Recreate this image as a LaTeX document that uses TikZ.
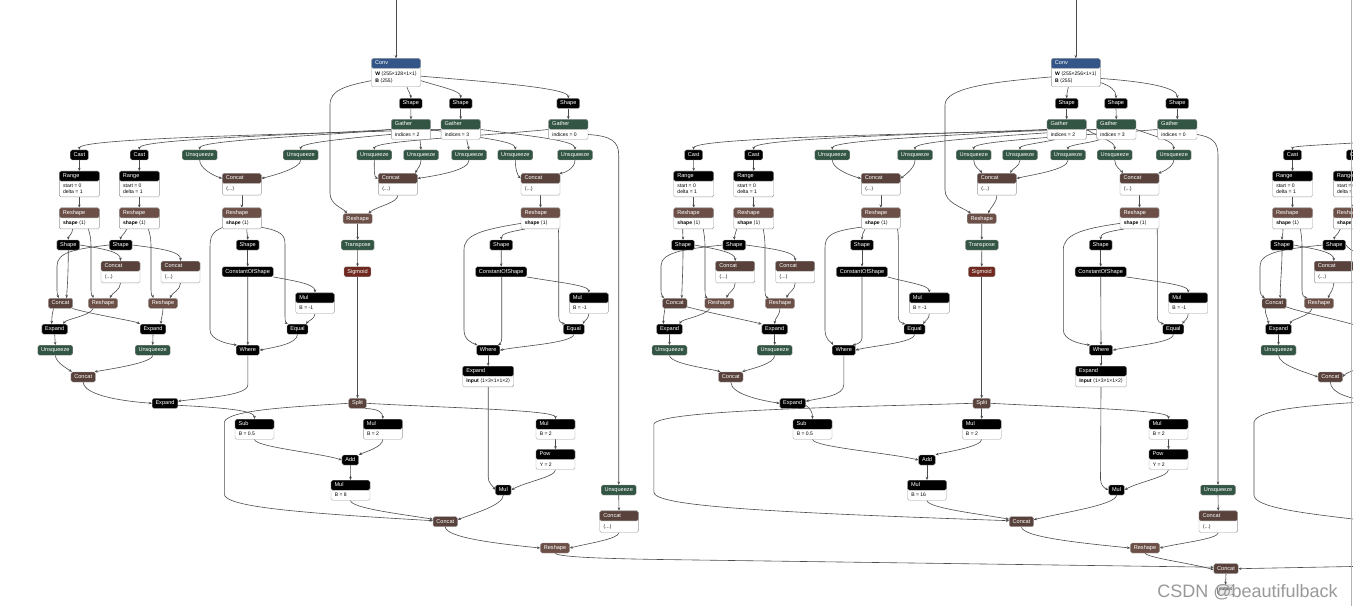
\documentclass[tikz,border=0pt]{standalone}
\usepackage{fontspec}
\usetikzlibrary{calc,arrows.meta}
\newfontfamily\labfont{Liberation Sans}
\newfontfamily\djfont{DejaVu Sans}
\newcommand{\opfont}{\labfont\fontsize{4.2pt}{5pt}\selectfont}
\newcommand{\atfont}{\labfont\fontsize{3.8pt}{4.5pt}\selectfont}
\newcommand{\outfont}{\labfont\fontsize{3.4pt}{4pt}\selectfont}
\newcommand{\wmfont}{\labfont\fontsize{13.5pt}{16pt}\selectfont}
\newcommand{\lng}{{\djfont ⟨}}
\newcommand{\rng}{{\djfont ⟩}}
\definecolor{cconv}{RGB}{51,85,136}
\definecolor{cgrn}{RGB}{51,85,68}
\definecolor{cshp}{RGB}{108,79,71}
\definecolor{ctens}{RGB}{89,66,59}
\definecolor{cact}{RGB}{112,41,33}
\pgfdeclarelayer{bgl}
\pgfdeclarelayer{edges}
\pgfsetlayers{bgl,edges,main}
\tikzset{
 opn/.style={rounded corners=1.2pt, inner xsep=2.5pt, inner ysep=0pt, minimum height=7.5pt,
   text height=3.0pt, text depth=0.8pt, font=\opfont, text=white, draw=black!35, line width=0.25pt},
 blk/.style={opn, fill=black},
 grn/.style={opn, fill=cgrn},
 brn/.style={opn, fill=ctens},
 rsh/.style={opn, fill=cshp},
 actn/.style={opn, fill=cact},
 hdrbox/.style={rounded corners=1.2pt, inner sep=0pt, minimum height=7.5pt, draw=black!35, line width=0.25pt},
 bodybox/.style={rounded corners=1.2pt, inner sep=0pt, draw=black!40, fill=white, line width=0.3pt},
 hdrtext/.style={anchor=west, inner sep=0pt, font=\opfont, text=white, text height=3.0pt, text depth=0.8pt},
 bodytext/.style={anchor=west, inner sep=0pt, font=\atfont, align=left, text=black},
 outn/.style={rounded corners=1.2pt, draw=black!70, fill=black!8, text=black, font=\outfont,
   inner xsep=1.2pt, inner ysep=0pt, minimum height=7.5pt, line width=0.3pt},
 wmark/.style={inner sep=0pt, font=\wmfont, text=black!40},
 edg/.style={draw=black!70, line width=0.45pt, -{Stealth[length=2.4pt,width=2pt]}},
}
% #1 name, #2 x centre, #3 y top, #4 width px, #5 colour, #6 title, #7 body height px, #8 body text
\newcommand{\anode}[8]{%
 \node[bodybox, minimum width=#4*0.75pt, minimum height=(#7+10)*0.75pt, anchor=north] (#1x) at (#2,#3) {};
 \node[hdrbox, fill=#5, minimum width=#4*0.75pt, anchor=north] (#1) at (#2,#3) {};
 \node[hdrtext] (#1t) at ([xshift=2.6pt]#1.west) {#6};
 \node[bodytext] (#1y) at ({#2-#4/2+3.5},{#3+10+#7/2}) {#8};
}
\begin{document}
\begin{tikzpicture}[x=0.75pt,y=-0.75pt]
\useasboundingbox (0,0) rectangle (1353,606);
\begin{pgfonlayer}{bgl}
\fill[white] (0,0) rectangle (1353,606);
\end{pgfonlayer}

% ================= block 1 =================
\coordinate (ptop) at (396,-5);
\anode{pconv}{396}{58.3}{49}{cconv}{Conv}{18.3}{\textbf{W} \lng255×128×1×1\rng\\[1.4pt]\textbf{B} \lng255\rng}
\node[blk] (psh1) at (410.8,103.5) {Shape};
\node[blk] (psh2) at (460.7,103.5) {Shape};
\node[blk] (psh3) at (568.3,103.5) {Shape};
\anode{pg1}{411}{119.3}{39.3}{cgrn}{Gather}{10}{indices = 2}
\anode{pg2}{460.7}{119.3}{39.3}{cgrn}{Gather}{10}{indices = 3}
\anode{pg3}{568.3}{119.3}{39.3}{cgrn}{Gather}{10}{indices = 0}
\node[blk] (pcast1) at (79.3,155) {Cast};
\node[blk] (pcast2) at (139.3,155) {Cast};
\node[grn] (pu1) at (199.7,155) {Unsqueeze};
\node[grn] (pu2) at (300.7,155) {Unsqueeze};
\node[grn] (pu3) at (374.3,155) {Unsqueeze};
\node[grn] (pu4) at (421,155) {Unsqueeze};
\node[grn] (pu5) at (469,155) {Unsqueeze};
\node[grn] (pu6) at (515.3,155) {Unsqueeze};
\node[grn] (pu7) at (575,155) {Unsqueeze};
\anode{prg1}{79.3}{171}{40}{black}{Range}{15.7}{start = 0\\delta = 1}
\anode{prg2}{139.3}{171}{40}{black}{Range}{15.7}{start = 0\\delta = 1}
\anode{pcc1}{241.8}{173.3}{39}{ctens}{Concat}{11.7}{\lng...\rng}
\anode{pcc2}{397.8}{173.3}{39}{ctens}{Concat}{11.7}{\lng...\rng}
\anode{pcc3}{540.5}{173.3}{39}{ctens}{Concat}{11.7}{\lng...\rng}
\anode{prs1}{79.3}{207.7}{40}{cshp}{Reshape}{11}{\textbf{shape} \lng1\rng}
\anode{prs2}{139.3}{207.7}{40}{cshp}{Reshape}{11}{\textbf{shape} \lng1\rng}
\anode{prs3}{241.8}{207.7}{39}{cshp}{Reshape}{11}{\textbf{shape} \lng1\rng}
\anode{prs4}{540.5}{207.7}{39}{cshp}{Reshape}{11}{\textbf{shape} \lng1\rng}
\node[rsh] (prs5) at (357.7,218.7) {Reshape};
\node[blk] (pshA) at (68.3,245) {Shape};
\node[blk] (pshB) at (120.7,245) {Shape};
\node[blk] (pshC) at (247.7,245) {Shape};
\node[grn] (ptr) at (357.7,245) {Transpose};
\node[blk] (pshD) at (501.3,245) {Shape};
\anode{pcc4}{120.5}{261}{39}{ctens}{Concat}{11.7}{\lng...\rng}
\anode{pcc5}{180.5}{261}{39}{ctens}{Concat}{11.7}{\lng...\rng}
\node[blk] (pcos1) at (247.7,271.8) {ConstantOfShape};
\node[actn] (psig) at (357.5,271.8) {Sigmoid};
\node[blk] (pcos2) at (501.2,271.8) {ConstantOfShape};
\anode{pmul1}{315}{292.7}{38.6}{black}{Mul}{10.6}{B = -1}
\anode{pmul2}{588.8}{292.7}{39}{black}{Mul}{10.6}{B = -1}
\node[brn] (pcc7) at (60.5,303.3) {Concat};
\node[rsh] (prs6) at (103,303.3) {Reshape};
\node[rsh] (prs7) at (163,303.3) {Reshape};
\node[blk] (pex1) at (54.7,329.2) {Expand};
\node[blk] (pex2) at (153,329.2) {Expand};
\node[blk] (peq1) at (297.5,329.2) {Equal};
\node[blk] (peq2) at (573.8,329.2) {Equal};
\node[grn] (pu8) at (55.3,350.2) {Unsqueeze};
\node[grn] (pu9) at (152.7,350.2) {Unsqueeze};
\node[blk] (pwh1) at (247.8,350.2) {Where};
\node[blk] (pwh2) at (488.2,350.2) {Where};
\anode{pexp}{488.2}{366}{51}{black}{Expand}{10.7}{\textbf{Input} \lng1×3×1×1×2\rng}
\node[brn] (pcc8) at (83.2,377) {Concat};
\node[blk] (pex3) at (165,403.3) {Expand};
\node[brn] (psplit) at (357.5,403.3) {Split};
\anode{psub}{254.5}{419}{39}{black}{Sub}{10}{B = 0.5}
\anode{pmul3}{382.8}{419}{39}{black}{Mul}{10}{B = 2}
\anode{pmul4}{555.5}{419}{39}{black}{Mul}{10}{B = 2}
\anode{ppow}{555.5}{449.3}{39}{black}{Pow}{10}{Y = 2}
\node[blk] (padd) at (350.3,460) {Add};
\anode{pmul5}{350.5}{480}{39}{black}{Mul}{10}{B = 8}
\node[blk] (pmul6) at (503.3,490) {Mul};
\node[grn] (pu10) at (618.7,490) {Unsqueeze};
\anode{pcc6}{619}{510.7}{38.6}{ctens}{Concat}{11.6}{\lng...\rng}
\node[brn] (pcc9) at (445.3,521.7) {Concat};
\node[rsh] (prs8) at (555,548) {Reshape};

% ================= block 2 =================
\coordinate (qtop) at (1075.8,-5);
\anode{qconv}{1075.8}{58.3}{49}{cconv}{Conv}{18.3}{\textbf{W} \lng255×256×1×1\rng\\[1.4pt]\textbf{B} \lng255\rng}
\node[blk] (qsh1) at (1066.7,103.5) {Shape};
\node[blk] (qsh2) at (1116,103.5) {Shape};
\node[blk] (qsh3) at (1177.3,103.5) {Shape};
\anode{qg1}{1066.7}{119.3}{39.3}{cgrn}{Gather}{10}{indices = 2}
\anode{qg2}{1116.3}{119.3}{39.3}{cgrn}{Gather}{10}{indices = 3}
\anode{qg3}{1177.3}{119.3}{39.3}{cgrn}{Gather}{10}{indices = 0}
\node[blk] (qcast1) at (693.6,155) {Cast};
\node[blk] (qcast2) at (753.7,155) {Cast};
\node[grn] (qu1) at (832.3,155) {Unsqueeze};
\node[grn] (qu2) at (915,155) {Unsqueeze};
\node[grn] (qu3) at (973.7,155) {Unsqueeze};
\node[grn] (qu4) at (1020,155) {Unsqueeze};
\node[grn] (qu5) at (1068,155) {Unsqueeze};
\node[grn] (qu6) at (1114.7,155) {Unsqueeze};
\node[grn] (qu7) at (1173.7,155) {Unsqueeze};
\anode{qrg1}{693.7}{171}{40}{black}{Range}{15.7}{start = 0\\delta = 1}
\anode{qrg2}{753.7}{171}{40}{black}{Range}{15.7}{start = 0\\delta = 1}
\anode{qcc1}{880.8}{173.3}{39}{ctens}{Concat}{11.7}{\lng...\rng}
\anode{qcc2}{996.8}{173.3}{39}{ctens}{Concat}{11.7}{\lng...\rng}
\anode{qcc3}{1139.5}{173.3}{39}{ctens}{Concat}{11.7}{\lng...\rng}
\anode{qrs1}{693.7}{207.7}{40}{cshp}{Reshape}{11}{\textbf{shape} \lng1\rng}
\anode{qrs2}{753.7}{207.7}{40}{cshp}{Reshape}{11}{\textbf{shape} \lng1\rng}
\anode{qrs3}{880.8}{207.7}{39}{cshp}{Reshape}{11}{\textbf{shape} \lng1\rng}
\anode{qrs4}{1139.5}{207.7}{39}{cshp}{Reshape}{11}{\textbf{shape} \lng1\rng}
\node[rsh] (qrs5) at (981.7,218.7) {Reshape};
\node[blk] (qshA) at (683,245) {Shape};
\node[blk] (qshB) at (734.3,245) {Shape};
\node[blk] (qshC) at (862,245) {Shape};
\node[grn] (qtr) at (981.8,245) {Transpose};
\node[blk] (qshD) at (1100.7,245) {Shape};
\anode{qcc4}{735.2}{261}{39}{ctens}{Concat}{11.7}{\lng...\rng}
\anode{qcc5}{795.2}{261}{39}{ctens}{Concat}{11.7}{\lng...\rng}
\node[blk] (qcos1) at (862,271.8) {ConstantOfShape};
\node[actn] (qsig) at (981.7,271.8) {Sigmoid};
\node[blk] (qcos2) at (1100.7,271.8) {ConstantOfShape};
\anode{qmul1}{929.3}{292.7}{40}{black}{Mul}{10.6}{B = -1}
\anode{qmul2}{1188.2}{292.7}{39}{black}{Mul}{10.6}{B = -1}
\node[brn] (qcc7) at (674.8,303.3) {Concat};
\node[rsh] (qrs6) at (719.3,303.3) {Reshape};
\node[rsh] (qrs7) at (780,303.3) {Reshape};
\node[blk] (qex1) at (669.5,329.2) {Expand};
\node[blk] (qex2) at (774.7,329.2) {Expand};
\node[blk] (qeq1) at (914.5,329.2) {Equal};
\node[blk] (qeq2) at (1173.3,329.2) {Equal};
\node[grn] (qu8) at (669.5,350.2) {Unsqueeze};
\node[grn] (qu9) at (774.7,350.2) {Unsqueeze};
\node[blk] (qwh1) at (843.8,350.2) {Where};
\node[blk] (qwh2) at (1101,350.2) {Where};
\anode{qexp}{1101}{366}{51}{black}{Expand}{10.7}{\textbf{Input} \lng1×3×1×1×2\rng}
\node[brn] (qcc8) at (730.8,377) {Concat};
\node[blk] (qex3) at (792.7,403.3) {Expand};
\node[brn] (qsplit) at (981.7,403.3) {Split};
\anode{qsub}{812.5}{419}{39}{black}{Sub}{10}{B = 0.5}
\anode{qmul3}{981.7}{419}{39}{black}{Mul}{10}{B = 2}
\anode{qmul4}{1168.5}{419}{39}{black}{Mul}{10}{B = 2}
\anode{qpow}{1168.5}{449.3}{39}{black}{Pow}{10}{Y = 2}
\node[blk] (qadd) at (927,460) {Add};
\anode{qmul5}{927}{480}{39}{black}{Mul}{10}{B = 16}
\node[blk] (qmul6) at (1116.5,490) {Mul};
\node[grn] (qu10) at (1218,490) {Unsqueeze};
\anode{qcc6}{1218.3}{510.7}{38.6}{ctens}{Concat}{11.6}{\lng...\rng}
\node[brn] (qcc9) at (1021.5,521.7) {Concat};
\node[rsh] (qrs8) at (1145,548) {Reshape};
\node[brn] (fcc) at (1226,568.7) {Concat};
\node[outn] (fout) at (1225.5,590) {output};

% ================= block 3 (cut off) =================
\node[blk] (rcast1) at (1292.5,155) {Cast};
\node[blk] (rcast2) at (1355.5,155) {Cast};
\anode{rrg1}{1292.5}{171}{40}{black}{Range}{15.7}{start = 0\\delta = 1}
\anode{rrg2}{1353.3}{171}{40}{black}{Range}{15.7}{start = 0\\delta = 1}
\anode{rrs1}{1292.5}{207.7}{40}{cshp}{Reshape}{11}{\textbf{shape} \lng1\rng}
\anode{rrs2}{1353.3}{207.7}{40}{cshp}{Reshape}{11}{\textbf{shape} \lng1\rng}
\node[blk] (rshA) at (1282,245) {Shape};
\node[blk] (rshB) at (1334.3,245) {Shape};
\anode{rcc4}{1333.8}{261}{39}{ctens}{Concat}{11.7}{\lng...\rng}
\node[brn] (rcc7) at (1274.2,303.3) {Concat};
\node[rsh] (rrs6) at (1319,303.3) {Reshape};
\node[blk] (rex1) at (1278.5,329.2) {Expand};
\node[grn] (ru8) at (1278.5,350.2) {Unsqueeze};
\node[brn] (rcc8) at (1330.3,377) {Concat};
\coordinate (rtop) at (1362,142.5);
\coordinate (rsBo) at (1362,256);
\coordinate (rc7o) at (1365,328);
\coordinate (rc8i) at (1362,368);
\coordinate (rc8o) at (1362,400);
\coordinate (rl1) at (1362,402);
\coordinate (rl2) at (1362,520);
\coordinate (rin) at (1362,566.3);

\node[wmark, anchor=base west] (wm) at (1157,597) {CSDN @beautifulback};

% ================= edges =================
\begin{pgfonlayer}{edges}
% ---- block 1 top
\draw[edg] (ptop) -- (pconv.north);
\draw[edg] ($(pconvx.south)+(11,0)$) .. controls (408,92) and (410.8,93) .. (psh1.north);
\draw[edg] ($(pconvx.east)+(0,8)$) .. controls (445,88) and (460.7,91) .. (psh2.north);
\draw[edg] ($(pconvx.east)+(0,3.5)$) .. controls (490,82) and (568.3,88) .. (psh3.north);
\draw[edg] ($(pconvx.west)+(0,8)$) .. controls (345,86) and (330,90) .. (330,105) -- (330,193) .. controls (330,205) and (343,208) .. ($(prs5.north west)+(4,0)$);
\draw[edg] (psh1.south) -- (pg1.north);
\draw[edg] (psh2.south) -- (pg2.north);
\draw[edg] (psh3.south) -- (pg3.north);
\draw[edg] (pg2x.west) .. controls (300,134) and (79.3,138) .. (pcast1.north);
\draw[edg] (pg1x.west) .. controls (300,135) and (139.3,139) .. (pcast2.north);
\draw[edg] (pg1x.west) .. controls (320,136) and (199.7,140) .. (pu1.north);
\draw[edg] (pg2x.west) .. controls (380,136) and (300.7,141) .. (pu2.north);
\draw[edg] (pg3x.west) .. controls (470,137) and (374.3,141) .. (pu3.north);
\draw[edg] ($(pg1x.south)+(9,0)$) -- (pu4.north);
\draw[edg] ($(pg2x.south)+(6,0)$) -- (pu5.north);
\draw[edg] (pg1x.east) .. controls (480,138) and (515.3,141) .. (pu6.north);
\draw[edg] (pg2x.east) .. controls (540,137) and (575,141) .. (pu7.north);
\draw[edg] ($(pg3x.east)+(0,5)$) .. controls (612,136) and (618.7,142) .. (618.7,155) -- (pu10.north);
\draw[edg] (pu1.south) .. controls (199.7,168) and (212,175) .. (pcc1.west);
\draw[edg] (pu2.south) .. controls (300.7,168) and (275,175) .. (pcc1.east);
\draw[edg] (pcast1.south) -- (prg1.north);
\draw[edg] (pcast2.south) -- (prg2.north);
\draw[edg] (prg1x.south) -- (prs1.north);
\draw[edg] (prg2x.south) -- (prs2.north);
\draw[edg] (pcc1x.south) -- (prs3.north);
\draw[edg] (pu3.south) .. controls (374.3,170) and (374,177) .. (pcc2.west);
\draw[edg] (pu4.south) .. controls (421,166) and (417,169) .. ($(pcc2.north east)+(-2,0)$);
\draw[edg] (pu5.south) .. controls (469,170) and (440,175) .. (pcc2.east);
\draw[edg] (pcc2x.south) .. controls (397.8,203) and (375,207) .. ($(prs5.north east)+(-4,0)$);
\draw[edg] (pu6.south) .. controls (515.3,170) and (518,176) .. (pcc3.west);
\draw[edg] (pu7.south) .. controls (575,168) and (565,173) .. ($(pcc3.north east)+(-1,0)$);
\draw[edg] (pcc3x.south) -- (prs4.north);
\draw[edg] (prs5.south) -- (ptr.north);
\draw[edg] (ptr.south) -- (psig.north);
\draw[edg] (psig.south) -- (psplit.north);
% ---- block 1 left cluster
\draw[edg] ($(prs1x.south)+(-6.6,0)$) .. controls (72,235) and (68.3,236) .. (pshA.north);
\draw[edg] ($(prs1x.south)+(9,0)$) .. controls (90,234) and (91,238) .. (91,248) -- (91,290) .. controls (91,296) and (93,297) .. ($(prs6.north west)+(5,0)$);
\draw[edg] ($(prs2x.south)+(-12.6,0)$) .. controls (124,235) and (120.7,236) .. (pshB.north);
\draw[edg] ($(prs2x.south)+(9,0)$) .. controls (150,234) and (151,238) .. (151,248) -- (151,290) .. controls (151,296) and (153,297) .. ($(prs7.north west)+(5,0)$);
\draw[edg] (pshA.south) .. controls (68.3,270) and (67.5,285) .. ($(pcc7.north)+(6,0)$);
\draw[edg] (pshA.east) .. controls (105,249) and (120.5,252) .. (pcc4.north);
\draw[edg] (pshB.west) .. controls (75,249) and (57,252) .. (57,266) -- (57,290) .. controls (57,294) and (58,296) .. ($(pcc7.north)+(-2,0)$);
\draw[edg] (pshB.east) .. controls (165,249) and (180.5,252) .. (pcc5.north);
\draw[edg] (pcc4x.south) .. controls (120.5,290) and (112,293) .. ($(prs6.north)+(7,0)$);
\draw[edg] (pcc5x.south) .. controls (180.5,290) and (172,293) .. ($(prs7.north)+(7,0)$);
\draw[edg] ($(pcc7.south)+(-7,0)$) .. controls (52,315) and (51.7,318) .. ($(pex1.north)+(-3,0)$);
\draw[edg] ($(pcc7.south)+(12,0)$) .. controls (90,314) and (135,321) .. (pex2.north west);
\draw[edg] ($(prs6.south)+(-9.7,0)$) .. controls (90,316) and (66,319) .. ($(pex1.north)+(8.6,0)$);
\draw[edg] (prs7.south) .. controls (163,315) and (161,318) .. ($(pex2.north)+(8,0)$);
\draw[edg] (pex1.south) -- (pu8.north);
\draw[edg] (pex2.south) -- (pu9.north);
\draw[edg] (pu8.south) .. controls (56,363) and (68,369) .. ($(pcc8.north west)+(1,0)$);
\draw[edg] (pu9.south) .. controls (152,363) and (110,369) .. ($(pcc8.north east)+(-1,0)$);
\draw[edg] (pcc8.south) .. controls (84,395) and (120,401) .. (pex3.west);
% ---- block 1 middle cluster
\draw[edg] ($(prs3x.south west)+(1,-2)$) .. controls (212,232) and (210,236) .. (210,248) -- (210,330) .. controls (210,340) and (228,344) .. ($(pwh1.north west)+(1,0)$);
\draw[edg] ($(prs3x.south)+(5,0)$) .. controls (246.8,234) and (247.7,235) .. (pshC.north);
\draw[edg] ($(prs3x.south east)+(-1,-2)$) .. controls (282,231) and (285,235) .. (285,245) -- (285,316) .. controls (285,322) and (286,323) .. ($(peq1.north west)+(1,0)$);
\draw[edg] (pshC.south) -- (pcos1.north);
\draw[edg] (pcos1.south) -- (pwh1.north);
\draw[edg] (pcos1.south east) .. controls (295,281) and (315,284) .. (pmul1.north);
\draw[edg] (pmul1x.south) .. controls (315,319) and (308,321) .. ($(peq1.north east)+(-2,0)$);
\draw[edg] (peq1.south) .. controls (297,344) and (275,347) .. (pwh1.east);
\draw[edg] (pwh1.south) -- (247.8,385) .. controls (247.8,396) and (200,398) .. ($(pex3.east)+(0,-2)$);
\draw[edg] ($(pex3.east)+(0,2)$) .. controls (230,408) and (254.5,411) .. (psub.north);
% ---- block 1 right cluster
\draw[edg] ($(prs4x.west)+(0,5)$) .. controls (480,230) and (464,235) .. (464,250) -- (464,330) .. controls (464,340) and (472,343) .. ($(pwh2.north west)+(1,0)$);
\draw[edg] ($(prs4x.south west)+(4,0)$) .. controls (508,232) and (501.3,234) .. (pshD.north);
\draw[edg] ($(prs4x.south east)+(-2,-1)$) .. controls (558.7,232) and (558.7,236) .. (558.7,245) -- (558.7,316) .. controls (558.7,322) and (561,323) .. ($(peq2.north west)+(2,0)$);
\draw[edg] (pshD.south) -- (pcos2.north);
\draw[edg] ($(pcos2.south)+(0.5,0)$) -- (501.7,338) .. controls (501.7,342) and (500,344) .. ($(pwh2.north east)+(-2,0)$);
\draw[edg] (pcos2.south east) .. controls (555,282) and (588.8,285) .. (pmul2.north);
\draw[edg] (pmul2x.south) .. controls (588.8,319) and (584,321) .. ($(peq2.north east)+(-1.5,0)$);
\draw[edg] (peq2.south) .. controls (573,343) and (520,346) .. (pwh2.east);
\draw[edg] (pwh2.south) -- (pexp.north);
\draw[edg] (pexpx.south) -- (488.2,477) .. controls (488.2,483) and (492,485) .. (pmul6.west);
% ---- block 1 lower part
\draw[edg] ($(psplit.south east)+(-1,0)$) .. controls (378,409) and (382.8,412) .. (pmul3.north);
\draw[edg] (psplit.east) .. controls (450,408) and (555.5,410) .. (pmul4.north);
\draw[edg] (psplit.west) .. controls (290,407) and (228,410) .. (224.3,422) -- (224.3,494) .. controls (224.3,507) and (300,513) .. ($(pcc9.west)+(0,-1)$);
\draw[edg] (psubx.south) .. controls (255,447) and (320,453) .. (padd.west);
\draw[edg] (pmul3x.south) .. controls (382.8,447) and (365,452) .. (padd.north east);
\draw[edg] (padd.south) -- (pmul5.north);
\draw[edg] (pmul5x.south) .. controls (350.5,508) and (400,514) .. ($(pcc9.west)+(0,-2.5)$);
\draw[edg] (pmul4x.south) -- (ppow.north);
\draw[edg] (ppowx.south) .. controls (555.5,477) and (525,482) .. (pmul6.east);
\draw[edg] (pmul6.south) .. controls (503.3,505) and (475,513) .. ($(pcc9.east)+(0,-2)$);
\draw[edg] (pu10.south) -- (pcc6.north);
\draw[edg] (pcc9.south) .. controls (446,537) and (490,543) .. (prs8.west);
\draw[edg] (pcc6x.south) .. controls (618,539) and (590,543) .. (prs8.east);
\draw[edg] (prs8.south) .. controls (558,557) and (600,558.5) .. (660,559.5) -- ($(fcc.west)+(0,-1.5)$);

% ---- block 2 top
\draw[edg] (qtop) -- (qconv.north);
\draw[edg] ($(qconvx.south)+(-7.5,0)$) .. controls (1067.5,92) and (1066.7,93) .. (qsh1.north);
\draw[edg] ($(qconvx.east)+(0,9.8)$) .. controls (1110,86) and (1116,90) .. (qsh2.north);
\draw[edg] ($(qconvx.east)+(0,5.8)$) .. controls (1150,82) and (1177.3,88) .. (qsh3.north);
\draw[edg] ($(qconvx.west)+(0,4.3)$) .. controls (990,82) and (945,88) .. (945,105) -- (945,190) .. controls (945,203) and (962,207) .. ($(qrs5.north west)+(4,0)$);
\draw[edg] (qsh1.south) -- (qg1.north);
\draw[edg] (qsh2.south) -- (qg2.north);
\draw[edg] (qsh3.south) -- (qg3.north);
\draw[edg] (qg2x.west) .. controls (900,134) and (693.6,138) .. (qcast1.north);
\draw[edg] (qg1x.west) .. controls (900,135) and (753.7,139) .. (qcast2.north);
\draw[edg] (qg1x.west) .. controls (950,136) and (832.3,140) .. (qu1.north);
\draw[edg] (qg2x.west) .. controls (1000,136) and (915,141) .. (qu2.north);
\draw[edg] (qg3x.west) .. controls (1060,137) and (973.7,141) .. (qu3.north);
\draw[edg] ($(qg1x.south)+(-12,0)$) .. controls (1040,143) and (1020,145) .. (qu4.north);
\draw[edg] ($(qg2x.south west)+(3,0)$) .. controls (1090,143) and (1068,145) .. (qu5.north);
\draw[edg] (qg1x.east) .. controls (1100,138) and (1114.7,141) .. (qu6.north);
\draw[edg] (qg2x.east) .. controls (1160,138) and (1173.7,141) .. (qu7.north);
\draw[edg] ($(qg3x.east)+(0,5)$) .. controls (1212,137) and (1218,142) .. (1218,155) -- (qu10.north);
\draw[edg] (qu1.south) .. controls (832.3,168) and (848,175) .. (qcc1.west);
\draw[edg] (qu2.south) .. controls (915,168) and (905,175) .. (qcc1.east);
\draw[edg] (qcast1.south) -- (qrg1.north);
\draw[edg] (qcast2.south) -- (qrg2.north);
\draw[edg] (qrg1x.south) -- (qrs1.north);
\draw[edg] (qrg2x.south) -- (qrs2.north);
\draw[edg] (qcc1x.south) -- (qrs3.north);
\draw[edg] (qu3.south) .. controls (973.7,167) and (980,170) .. ($(qcc2.north west)+(5,0)$);
\draw[edg] (qu4.south) .. controls (1020,166) and (1012,169) .. ($(qcc2.north east)+(-6,0)$);
\draw[edg] (qu5.south) .. controls (1068,170) and (1030,175) .. (qcc2.east);
\draw[edg] (qcc2x.south) .. controls (996.8,203) and (990,208) .. ($(qrs5.north)+(6.6,0)$);
\draw[edg] (qu6.south) .. controls (1114.7,167) and (1121,170) .. ($(qcc3.north west)+(3,0)$);
\draw[edg] (qu7.south) .. controls (1173.7,167) and (1162,172) .. ($(qcc3.north east)+(-1,0)$);
\draw[edg] (qcc3x.south) -- (qrs4.north);
\draw[edg] (qrs5.south) -- (qtr.north);
\draw[edg] (qtr.south) -- (qsig.north);
\draw[edg] (qsig.south) -- (qsplit.north);
% ---- block 2 left cluster
\draw[edg] ($(qrs1x.south)+(-11,0)$) .. controls (682.7,235) and (683,236) .. (qshA.north);
\draw[edg] ($(qrs1x.south)+(9.6,0)$) .. controls (704,234) and (705,238) .. (705,248) -- (705,290) .. controls (705,296) and (706,297) .. ($(qrs6.north west)+(3,0)$);
\draw[edg] ($(qrs2x.south)+(-17,0)$) .. controls (735,235) and (734.3,236) .. (qshB.north);
\draw[edg] ($(qrs2x.south)+(9.6,0)$) .. controls (764,234) and (765,238) .. (765,248) -- (765,290) .. controls (765,296) and (766,297) .. ($(qrs7.north west)+(3.5,0)$);
\draw[edg] (qshA.south) .. controls (683,270) and (682,285) .. ($(qcc7.north)+(7,0)$);
\draw[edg] (qshA.east) .. controls (715,249) and (735.2,252) .. (qcc4.north);
\draw[edg] (qshB.west) .. controls (685,249) and (661,252) .. (661,266) -- (661,290) .. controls (661,294) and (662,296) .. ($(qcc7.north west)+(1.5,0)$);
\draw[edg] (qshB.east) .. controls (775,249) and (795.2,252) .. (qcc5.north);
\draw[edg] (qcc4x.south) .. controls (735.2,290) and (728,293) .. ($(qrs6.north)+(7.4,0)$);
\draw[edg] (qcc5x.south) .. controls (795.2,290) and (788,293) .. ($(qrs7.north)+(6.7,0)$);
\draw[edg] ($(qcc7.south)+(-9.8,0)$) .. controls (664,315) and (663.3,318) .. ($(qex1.north)+(-6,0)$);
\draw[edg] ($(qcc7.south east)+(0,-1.6)$) .. controls (710,313) and (750,321) .. (qex2.north west);
\draw[edg] ($(qrs6.south)+(-9.3,0)$) .. controls (705,316) and (682,319) .. ($(qex1.north)+(10,0)$);
\draw[edg] (qrs7.south) .. controls (780,315) and (775,318) .. (qex2.north);
\draw[edg] (qex1.south) -- (qu8.north);
\draw[edg] (qex2.south) -- (qu9.north);
\draw[edg] (qu8.south) .. controls (670,364) and (712,369) .. ($(qcc8.north west)+(2,0)$);
\draw[edg] (qu9.south) .. controls (774.7,364) and (750,369) .. ($(qcc8.north east)+(-1,0)$);
\draw[edg] (qcc8.south) .. controls (731,395) and (765,401) .. (qex3.west);
% ---- block 2 middle cluster
\draw[edg] ($(qrs3x.south west)+(1,-2)$) .. controls (830,231) and (825,236) .. (825,248) -- (825,330) .. controls (825,340) and (832,343) .. ($(qwh1.north west)+(1,0)$);
\draw[edg] ($(qrs3x.south west)+(4,0)$) .. controls (863,233) and (862,235) .. (qshC.north);
\draw[edg] ($(qrs3x.south east)+(-3,0)$) .. controls (898.3,233) and (898.3,236) .. (898.3,245) -- (898.3,316) .. controls (898.3,322) and (901,323) .. ($(qeq1.north west)+(1.5,0)$);
\draw[edg] (qshC.south) -- (qcos1.north);
\draw[edg] (qcos1.south) -- (862,338) .. controls (862,342) and (858,344) .. ($(qwh1.north east)+(-3,0)$);
\draw[edg] (qcos1.south east) .. controls (905,282) and (929.3,285) .. (qmul1.north);
\draw[edg] (qmul1x.south) .. controls (929.3,319) and (925,321) .. ($(qeq1.north east)+(-2,0)$);
\draw[edg] (qeq1.south) .. controls (914.5,343) and (870,346) .. (qwh1.east);
\draw[edg] (qwh1.south) -- (843.8,385) .. controls (843.8,396) and (820,398) .. ($(qex3.east)+(0,-2)$);
\draw[edg] ($(qex3.east)+(0,2)$) .. controls (810,408) and (812.5,412) .. (qsub.north);
% ---- block 2 right cluster
\draw[edg] ($(qrs4x.west)+(0,5)$) .. controls (1080,229) and (1063.3,235) .. (1063.3,250) -- (1063.3,330) .. controls (1063.3,340) and (1080,344) .. ($(qwh2.north west)+(1,0)$);
\draw[edg] ($(qrs4x.south west)+(4,0)$) .. controls (1105,232) and (1100.7,234) .. (qshD.north);
\draw[edg] ($(qrs4x.south east)+(-2,-1)$) .. controls (1157.3,232) and (1157.3,236) .. (1157.3,245) -- (1157.3,316) .. controls (1157.3,322) and (1160,323) .. ($(qeq2.north west)+(1.5,0)$);
\draw[edg] (qshD.south) -- (qcos2.north);
\draw[edg] (qcos2.south) -- (qwh2.north);
\draw[edg] (qcos2.south east) .. controls (1160,282) and (1188.2,285) .. (qmul2.north);
\draw[edg] (qmul2x.south) .. controls (1188.2,319) and (1184,321) .. ($(qeq2.north east)+(-1.5,0)$);
\draw[edg] (qeq2.south) .. controls (1173.3,343) and (1130,346) .. (qwh2.east);
\draw[edg] (qwh2.south) -- (qexp.north);
\draw[edg] (qexpx.south) -- (1100.5,479) .. controls (1100.5,485) and (1104,488) .. (qmul6.west);
% ---- block 2 lower part
\draw[edg] (qsplit.south) -- (qmul3.north);
\draw[edg] (qsplit.east) .. controls (1080,408) and (1168.5,410) .. (qmul4.north);
\draw[edg] (qsplit.west) .. controls (850,407) and (660,410) .. (653.8,424) -- (653.8,492) .. controls (653.8,506) and (760,512) .. ($(qcc9.west)+(0,-1)$);
\draw[edg] (qsubx.south) .. controls (813,447) and (890,453) .. (qadd.west);
\draw[edg] (qmul3x.south) .. controls (981.5,447) and (945,452) .. (qadd.north east);
\draw[edg] (qadd.south) -- (qmul5.north);
\draw[edg] (qmul5x.south) .. controls (927,508) and (980,514) .. ($(qcc9.west)+(0,-2.5)$);
\draw[edg] (qmul4x.south) -- (qpow.north);
\draw[edg] (qpowx.south) .. controls (1168.5,477) and (1138,482) .. (qmul6.east);
\draw[edg] (qmul6.south) .. controls (1116.5,505) and (1060,513) .. ($(qcc9.east)+(0,-2)$);
\draw[edg] (qu10.south) -- (qcc6.north);
\draw[edg] (qcc9.south) .. controls (1022,537) and (1080,543) .. (qrs8.west);
\draw[edg] (qcc6x.south) .. controls (1218,539) and (1180,543) .. (qrs8.east);
\draw[edg] (qrs8.south) .. controls (1148,558) and (1190,563) .. ($(fcc.west)+(0,1)$);
\draw[edg] (rin) -- (fcc.east);
\draw[edg] (fcc.south) -- (fout.north);
% ---- block 3
\draw[edg] (rtop) .. controls (1320,145) and (1292.5,146) .. (rcast1.north);
\draw[edg] (rcast1.south) -- (rrg1.north);
\draw[edg] (rrg1x.south) -- (rrs1.north);
\draw[edg] (rcast2.south) -- (rrg2.north);
\draw[edg] (rrg2x.south) -- (rrs2.north);
\draw[edg] ($(rrs1x.south)+(-9.5,0)$) .. controls (1283,235) and (1282,236) .. (rshA.north);
\draw[edg] ($(rrs1x.south)+(8,0)$) .. controls (1301,234) and (1302,238) .. (1302,248) -- (1302,290) .. controls (1302,296) and (1304,297) .. ($(rrs6.north west)+(3,0)$);
\draw[edg] ($(rrs2x.south)+(-13,0)$) .. controls (1338,235) and (1334.3,236) .. (rshB.north);
\draw[edg] (rshA.south) .. controls (1282,270) and (1280,285) .. ($(rcc7.north)+(6,0)$);
\draw[edg] (rshA.east) .. controls (1315,249) and (1333.8,252) .. (rcc4.north);
\draw[edg] (rshB.west) .. controls (1285,249) and (1260,252) .. (1260,266) -- (1260,290) .. controls (1260,294) and (1262,296) .. ($(rcc7.north west)+(3,0)$);
\draw[edg] (rshB.east) .. controls (1348,248) and (1352,251) .. (rsBo);
\draw[edg] (rcc4x.south) .. controls (1333.3,290) and (1330,293) .. ($(rrs6.north)+(9,0)$);
\draw[edg] ($(rcc7.south)+(-9,0)$) .. controls (1265,315) and (1268,318) .. ($(rex1.north)+(-10,0)$);
\draw[edg] ($(rcc7.south east)+(0,-1.5)$) .. controls (1300,312) and (1340,320) .. (rc7o);
\draw[edg] ($(rrs6.south)+(-7,0)$) .. controls (1310,316) and (1292,319) .. ($(rex1.north)+(11.5,0)$);
\draw[edg] (rex1.south) -- (ru8.north);
\draw[edg] (ru8.south) .. controls (1279,365) and (1305,372) .. (rcc8.west);
\draw[edg] (rc8i) .. controls (1350,371) and (1345,374) .. (rcc8.east);
\draw[edg] (rcc8.south) .. controls (1331,392) and (1345,397) .. (rc8o);
\draw[edg] (rl1) .. controls (1300,406) and (1258,410) .. (1254,422) -- (1254,495) .. controls (1254,507) and (1300,513) .. (rl2);
\end{pgfonlayer}
% right frame line
\draw[black!30, line width=0.7pt] (1351.8,0) -- (1351.8,606);
\end{tikzpicture}
\end{document}
